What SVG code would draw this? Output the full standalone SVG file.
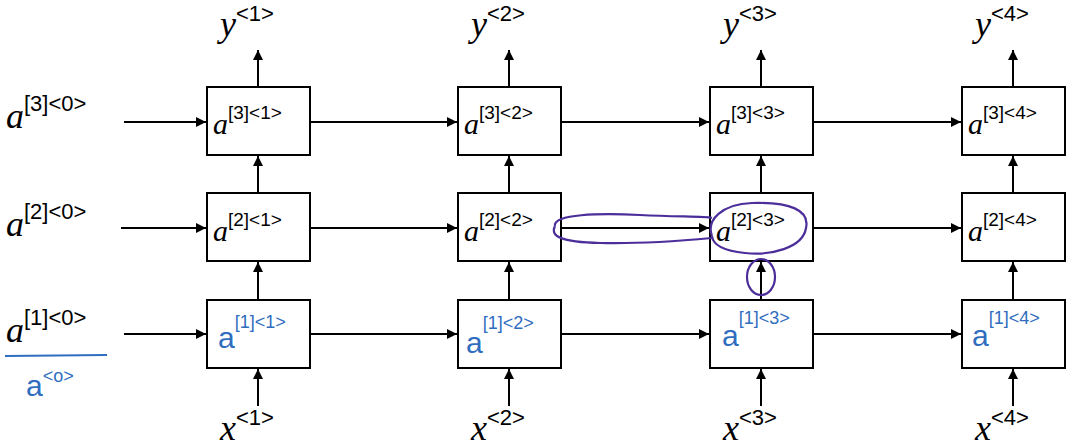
<svg xmlns="http://www.w3.org/2000/svg" width="1078" height="448" viewBox="0 0 1078 448">
<defs>
<marker id="ah" viewBox="0 0 10 10" refX="10" refY="5" markerWidth="13" markerHeight="10" markerUnits="userSpaceOnUse" orient="auto"><path d="M0,0 L10,5 L0,10 z" fill="#000"/></marker>
<style>
.box{fill:#fff;stroke:#000;stroke-width:2}
.ln{stroke:#000;stroke-width:2;fill:none;marker-end:url(#ah)}
.v{font-family:"Liberation Serif",serif;font-style:italic;font-size:36px;fill:#000}
.s{font-family:"Liberation Sans",sans-serif;font-size:22px;fill:#000}
.bv{font-family:"Liberation Serif",serif;font-style:italic;font-size:30px;fill:#000}
.bs{font-family:"Liberation Sans",sans-serif;font-size:19px;fill:#000}
.h{font-family:"Liberation Sans",sans-serif;font-size:30px;fill:#2f6dbf}
.hs{font-family:"Liberation Sans",sans-serif;font-size:18px;fill:#2f6dbf}
.ink{fill:none;stroke:#4b2e9a;stroke-width:2.2}
</style>
</defs>
<rect width="1078" height="448" fill="#fff"/>
<g id="connectors">
<line class="ln" x1="124" y1="122" x2="206" y2="122"/>
<line class="ln" x1="121" y1="228" x2="206" y2="228"/>
<line class="ln" x1="124" y1="334" x2="206" y2="334"/>
<line class="ln" x1="310" y1="122" x2="457" y2="122"/><line class="ln" x1="561" y1="122" x2="709" y2="122"/><line class="ln" x1="813" y1="122" x2="961" y2="122"/>
<line class="ln" x1="310" y1="228" x2="457" y2="228"/><line class="ln" x1="561" y1="228" x2="709" y2="228"/><line class="ln" x1="813" y1="228" x2="961" y2="228"/>
<line class="ln" x1="310" y1="334" x2="457" y2="334"/><line class="ln" x1="561" y1="334" x2="709" y2="334"/><line class="ln" x1="813" y1="334" x2="961" y2="334"/>
<line class="ln" x1="258" y1="87" x2="258" y2="50"/><line class="ln" x1="509" y1="87" x2="509" y2="50"/><line class="ln" x1="761" y1="87" x2="761" y2="50"/><line class="ln" x1="1013" y1="87" x2="1013" y2="50"/>
<line class="ln" x1="258" y1="193" x2="258" y2="156"/><line class="ln" x1="509" y1="193" x2="509" y2="156"/><line class="ln" x1="761" y1="193" x2="761" y2="156"/><line class="ln" x1="1013" y1="193" x2="1013" y2="156"/>
<line class="ln" x1="258" y1="300" x2="258" y2="262"/><line class="ln" x1="509" y1="300" x2="509" y2="262"/><line class="ln" x1="761" y1="300" x2="761" y2="262"/><line class="ln" x1="1013" y1="300" x2="1013" y2="262"/>
<line class="ln" x1="258" y1="406" x2="258" y2="369"/><line class="ln" x1="509" y1="406" x2="509" y2="369"/><line class="ln" x1="761" y1="406" x2="761" y2="369"/><line class="ln" x1="1013" y1="406" x2="1013" y2="369"/>
</g>
<g id="outputs">
<text x="220" y="36"><tspan class="v">y</tspan><tspan class="s" dy="-15">&lt;1&gt;</tspan></text>
<text x="471" y="36"><tspan class="v">y</tspan><tspan class="s" dy="-15">&lt;2&gt;</tspan></text>
<text x="723" y="36"><tspan class="v">y</tspan><tspan class="s" dy="-15">&lt;3&gt;</tspan></text>
<text x="975" y="36"><tspan class="v">y</tspan><tspan class="s" dy="-15">&lt;4&gt;</tspan></text>
</g>
<g id="inputs">
<text x="220" y="440"><tspan class="v">x</tspan><tspan class="s" dy="-15">&lt;1&gt;</tspan></text>
<text x="471" y="440"><tspan class="v">x</tspan><tspan class="s" dy="-15">&lt;2&gt;</tspan></text>
<text x="723" y="440"><tspan class="v">x</tspan><tspan class="s" dy="-15">&lt;3&gt;</tspan></text>
<text x="975" y="440"><tspan class="v">x</tspan><tspan class="s" dy="-15">&lt;4&gt;</tspan></text>
</g>
<g id="init">
<text x="6" y="128"><tspan class="v">a</tspan><tspan class="s" dy="-17">[3]&lt;0&gt;</tspan></text>
<text x="6" y="236"><tspan class="v">a</tspan><tspan class="s" dy="-17">[2]&lt;0&gt;</tspan></text>
<text x="6" y="342"><tspan class="v">a</tspan><tspan class="s" dy="-17">[1]&lt;0&gt;</tspan></text>
<line x1="5" y1="356" x2="107" y2="355" stroke="#2f6dbf" stroke-width="2"/>
<text x="26" y="396"><tspan class="h">a</tspan><tspan class="hs" dy="-14">&lt;o&gt;</tspan></text>
</g>
<g id="n31"><rect class="box" x="207" y="87" width="103" height="68"/><text x="213" y="134"><tspan class="bv">a</tspan><tspan class="bs" dy="-15">[3]&lt;1&gt;</tspan></text></g>
<g id="n32"><rect class="box" x="458" y="87" width="103" height="68"/><text x="464" y="134"><tspan class="bv">a</tspan><tspan class="bs" dy="-15">[3]&lt;2&gt;</tspan></text></g>
<g id="n33"><rect class="box" x="710" y="87" width="103" height="68"/><text x="716" y="134"><tspan class="bv">a</tspan><tspan class="bs" dy="-15">[3]&lt;3&gt;</tspan></text></g>
<g id="n34"><rect class="box" x="962" y="87" width="103" height="68"/><text x="968" y="134"><tspan class="bv">a</tspan><tspan class="bs" dy="-15">[3]&lt;4&gt;</tspan></text></g>
<g id="n21"><rect class="box" x="207" y="193" width="103" height="68"/><text x="213" y="241"><tspan class="bv">a</tspan><tspan class="bs" dy="-15">[2]&lt;1&gt;</tspan></text></g>
<g id="n22"><rect class="box" x="458" y="193" width="103" height="68"/><text x="464" y="241"><tspan class="bv">a</tspan><tspan class="bs" dy="-15">[2]&lt;2&gt;</tspan></text></g>
<g id="n23"><rect class="box" x="710" y="193" width="103" height="68"/><text x="716" y="241"><tspan class="bv">a</tspan><tspan class="bs" dy="-15">[2]&lt;3&gt;</tspan></text></g>
<g id="n24"><rect class="box" x="962" y="193" width="103" height="68"/><text x="968" y="241"><tspan class="bv">a</tspan><tspan class="bs" dy="-15">[2]&lt;4&gt;</tspan></text></g>
<g id="n11"><rect class="box" x="207" y="300" width="103" height="68"/><text x="218" y="348"><tspan class="h">a</tspan><tspan class="hs" dy="-20">[1]&lt;1&gt;</tspan></text></g>
<g id="n12"><rect class="box" x="458" y="300" width="103" height="68"/><text x="466" y="353"><tspan class="h">a</tspan><tspan class="hs" dy="-24">[1]&lt;2&gt;</tspan></text></g>
<g id="n13"><rect class="box" x="710" y="300" width="103" height="68"/><text x="722" y="346"><tspan class="h" font-size="26">a</tspan><tspan class="hs" dy="-22">[1]&lt;3&gt;</tspan></text></g>
<g id="n14"><rect class="box" x="962" y="300" width="103" height="68"/><text x="972" y="346"><tspan class="h" font-size="26">a</tspan><tspan class="hs" dy="-22">[1]&lt;4&gt;</tspan></text></g>
<g id="annotations">
<path class="ink" d="M555,226 C552,214 600,213 640,215 C680,217 705,216 712,218 M712,238 C690,240 640,244 600,243 C560,242 550,236 555,226"/>
<path class="ink" d="M712,236 C706,220 722,204 752,203 C790,202 810,210 806,228 C803,248 770,256 745,253 C725,251 713,246 712,236"/>
<ellipse class="ink" cx="761" cy="277" rx="14" ry="18"/>
</g>
</svg>
